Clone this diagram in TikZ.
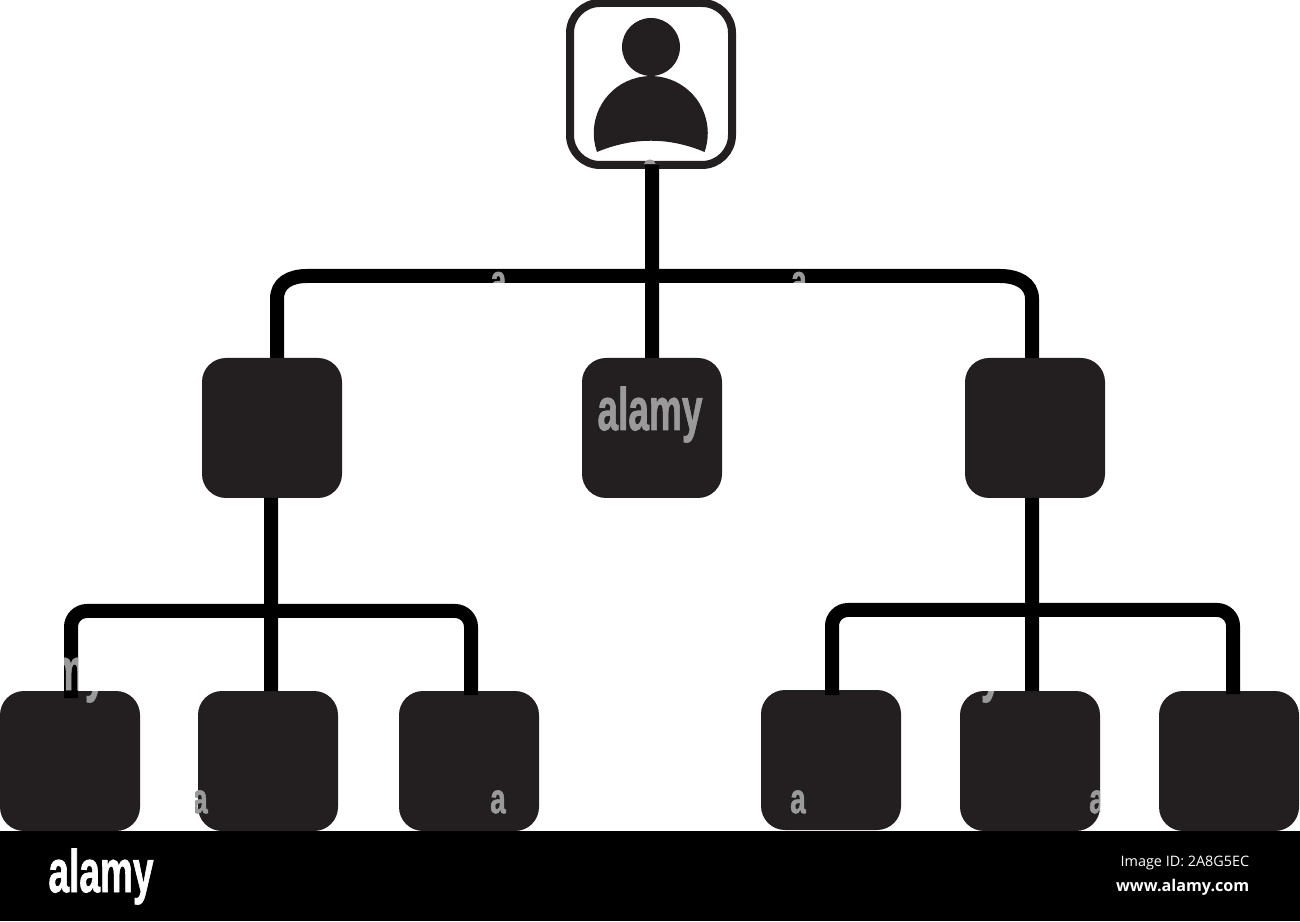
\documentclass[tikz,border=0pt]{standalone}
\usepackage{fontspec}
\setmainfont{Open Sans}
\newfontfamily\markfont[FakeBold=1.6]{Liberation Sans Bold}
\definecolor{boxblack}{HTML}{231F20}
\definecolor{markgrey}{HTML}{9A9A9A}
\tikzset{
  chartbox/.style={draw=none, fill=boxblack, rounded corners=0.24cm, minimum size=1.4cm, inner sep=0, outer sep=0},
  wire/.style={line width=0.14cm, black},
  bigmark/.style={inner sep=0, text=#1, xscale=0.62, font=\markfont\fontsize{17}{17}\selectfont},
  smallmark/.style={inner sep=0, text=markgrey, xscale=0.66, font=\markfont\fontsize{12}{12}\selectfont},
}
\begin{document}
\begin{tikzpicture}
  \useasboundingbox (0,0) rectangle (13,9.21);
  \fill[black] (0,0) rectangle (13,0.9);
  % boxes
  \node[draw=boxblack, line width=0.08cm, rounded corners=0.3cm, minimum size=1.62cm, inner sep=0, outer sep=0] (boss) at (6.51,8.37) {};
  \node[chartbox] (left) at (2.72,4.93) {};
  \node[chartbox] (mid) at (6.52,4.93) {};
  \node[chartbox] (right) at (10.35,4.93) {};
  \node[chartbox] (ll) at (0.70,1.6) {};
  \node[chartbox] (lm) at (2.68,1.6) {};
  \node[chartbox] (lr) at (4.69,1.6) {};
  \node[chartbox] (rl) at (8.31,1.61) {};
  \node[chartbox] (rm) at (10.30,1.6) {};
  \node[chartbox] (rr) at (12.29,1.6) {};
  % person
  \node[circle, fill=boxblack, minimum size=0.58cm, inner sep=0] (head) at (6.51,8.74) {};
  \fill[boxblack] (5.97,7.69) arc[start angle=199.4, end angle=-19.4, radius=0.57] .. controls (6.69,7.84) and (6.33,7.84) .. cycle;
  % top level
  \draw[wire] ([xshift=0.01cm]boss.south) -- (mid.north);
  \draw[wire] ([xshift=0.05cm]left.north) -- ++(0,0.59) .. controls +(0,0.16) and (2.90,6.45) .. (3.07,6.45) -- (10.0,6.45) .. controls (10.17,6.45) and (10.32,6.38) .. (10.32,6.22) -- ([xshift=-0.03cm]right.north);
  % left tree
  \draw[wire] ([xshift=-0.01cm]left.south) -- ([xshift=0.03cm]lm.north);
  \draw[wire, rounded corners=0.16cm] ([xshift=0.01cm,yshift=-0.07cm]ll.north) |- (2.71,3.10) -| ([xshift=0.02cm,yshift=-0.04cm]lr.north);
  % right tree
  \draw[wire] ([xshift=-0.03cm]right.south) -- ([xshift=0.02cm]rm.north);
  \draw[wire, rounded corners=0.16cm] ([xshift=0.01cm,yshift=-0.05cm]rl.north) |- (10.32,3.11) -| ([xshift=0.04cm,yshift=-0.03cm]rr.north);
  % watermark
  \node[bigmark=markgrey, anchor=base] (markmid) at (6.50,4.91) {alamy};
  \foreach \mx/\my/\lx/\ly/\ux/\uy [count=\i] in {
    4.98/1.19/3.99/0.9/5.39/2.3,
    7.98/1.19/7.61/0.9/9.01/2.3,
    10.97/1.19/9.6/0.9/11.0/2.3,
    2.00/1.19/1.95/0.9/3.38/2.3,
    4.985/6.375/4.8/6.38/5.2/6.52,
    7.99/6.375/7.8/6.38/8.2/6.52,
    6.50/7.495/6.4/7.57/6.6/7.61} {
    \begin{scope}
      \clip (\lx,\ly) rectangle (\ux,\uy);
      \node[smallmark] (mark\i) at (\mx,\my) {a};
    \end{scope}
  }
  \begin{scope}
    \clip (0.64,2.2) rectangle (0.78,2.7) (0,2.0) rectangle (1.4,2.3);
    \node[bigmark=markgrey, anchor=base east] (markleft) at (1.06,2.31) {my};
  \end{scope}
  \begin{scope}
    \clip (9.6,2.0) rectangle (11.0,2.3);
    \node[bigmark=markgrey, anchor=base east] (markright) at (10.02,2.31) {my};
  \end{scope}
  % footer
  \node[bigmark=white, anchor=base] (logo) at (1.01,0.29) {alamy};
  \node[anchor=east, inner sep=0, text=white, font=\fontsize{4.1}{5}\selectfont] (imgid) at (12.5,0.58) {Image ID: 2A8G5EC};
  \node[anchor=east, inner sep=0, text=white, font=\bfseries\fontsize{4.6}{5}\selectfont] (site) at (12.5,0.34) {www.alamy.com};
\end{tikzpicture}
\end{document}
